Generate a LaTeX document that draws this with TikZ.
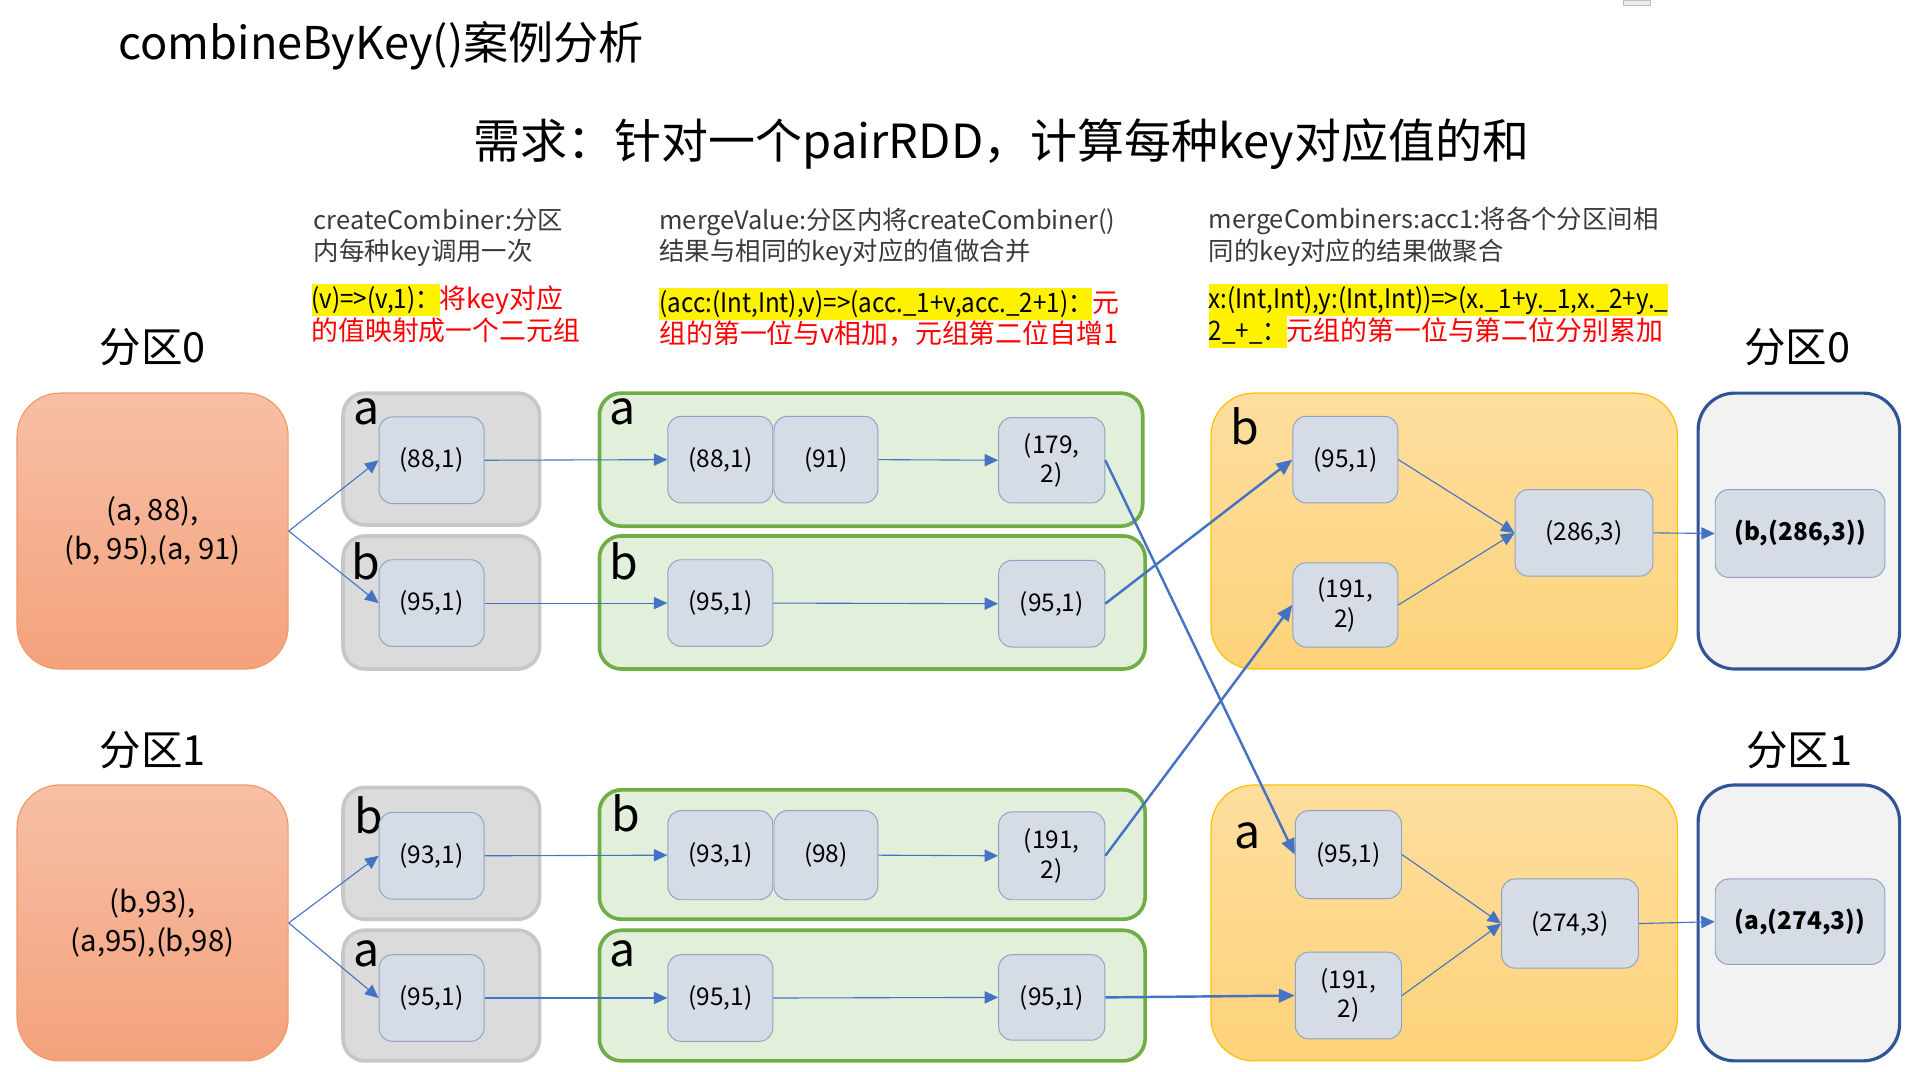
\documentclass[tikz,border=0pt]{standalone}
\usepackage{fontspec}
\setmainfont{Noto Sans CJK SC}
\newfontfamily\codefont[FakeStretch=0.9]{Noto Sans CJK SC}
\usetikzlibrary{arrows.meta}
\definecolor{kvfill}{HTML}{D6DCE5}
\definecolor{kvdraw}{HTML}{8FA3C3}
\definecolor{arr}{HTML}{4472C4}
\definecolor{grayfill}{HTML}{DBDBDB}
\definecolor{graydraw}{HTML}{C7C7C7}
\definecolor{greenfill}{HTML}{E2EFDA}
\definecolor{greendraw}{HTML}{70AD47}
\definecolor{orgtop}{HTML}{F7BFA6}
\definecolor{orgbot}{HTML}{F4A27C}
\definecolor{orgdraw}{HTML}{F19A66}
\definecolor{yeltop}{HTML}{FEDE9F}
\definecolor{yelbot}{HTML}{FDD37A}
\definecolor{yeldraw}{HTML}{FFC000}
\definecolor{resfill}{HTML}{F2F2F2}
\definecolor{resdraw}{HTML}{2F5597}
\definecolor{hdr}{HTML}{3A3A3A}
\definecolor{redtxt}{HTML}{FF0000}
\newcommand\hlt[1]{{\setlength{\fboxsep}{0pt}\colorbox{yellow}{\rule[-6pt]{0pt}{26pt}\textcolor{black}{\codefont #1}}}}
\tikzset{
  kv/.style={draw=kvdraw, fill=kvfill, rounded corners=11pt, line width=0.8pt,
    font=\fontsize{20}{24}\selectfont, align=center, inner sep=0pt,
    minimum width=86pt, minimum height=71pt},
  graybox/.style={draw=graydraw, fill=grayfill, rounded corners=18pt, line width=3pt,
    inner sep=0pt, minimum width=161pt},
  greenbox/.style={draw=greendraw, fill=greenfill, rounded corners=18pt, line width=3pt,
    inner sep=0pt, minimum width=447pt},
  orgbox/.style={draw=orgdraw, top color=orgtop, bottom color=orgbot, rounded corners=35pt,
    line width=1pt, inner sep=0pt, minimum width=222pt, minimum height=226pt,
    font=\fontsize{24}{32}\selectfont, align=center},
  yelbox/.style={draw=yeldraw, top color=yeltop, bottom color=yelbot, rounded corners=35pt,
    line width=1pt, inner sep=0pt, minimum width=382pt, minimum height=226pt},
  resbox/.style={draw=resdraw, fill=resfill, rounded corners=30pt, line width=2.6pt,
    inner sep=0pt, minimum width=165pt, minimum height=226pt},
  keylab/.style={anchor=base west, inner sep=0pt, font=\fontsize{38}{40}\selectfont},
  part/.style={anchor=base, inner sep=0pt, font=\fontsize{34}{38}\selectfont},
  hdrtxt/.style={anchor=base west, inner sep=0pt, text=hdr, font=\fontsize{20.8}{25}\selectfont},
  redline/.style={anchor=base west, inner sep=0pt, text=redtxt, font=\fontsize{22}{25}\selectfont},
  thin arrow/.style={draw=arr, line width=0.9pt, -{Triangle[length=11pt,width=10pt]}},
  thick arrow/.style={draw=arr, line width=2pt, -{Triangle[length=13pt,width=11pt]}},
}
\begin{document}
\begin{tikzpicture}[x=1pt,y=-1pt]
\useasboundingbox (0,0) rectangle (1567,878);
\node[fill=black!8, draw=black!25, line width=0.5pt, minimum width=22pt, minimum height=4pt, inner sep=0pt] (corner) at (1341,2) {};

% titles
\node[anchor=base west, inner sep=0pt, font=\fontsize{37}{40}\selectfont] (title) at (97,49) {combineByKey()案例分析};
\node[anchor=base west, inner sep=0pt, font=\fontsize{38.5}{44}\selectfont] (sub) at (388,130) {需求：针对一个pairRDD，计算每种key对应值的和};

% headers
\node[hdrtxt] (h1a) at (257,188) {createCombiner:分区};
\node[hdrtxt] (h1b) at (257,213) {内每种key调用一次};
\node[hdrtxt] (h2a) at (540,188) {mergeValue:分区内将createCombiner()};
\node[hdrtxt] (h2b) at (540,213) {结果与相同的key对应的值做合并};
\node[hdrtxt] (h3a) at (990,187) {mergeCombiners:acc1:将各个分区间相};
\node[hdrtxt] (h3b) at (990,213) {同的key对应的结果做聚合};

\node[redline] (r1a) at (255,253) {\hlt{(v)=>(v,1)：}将key对应};
\node[redline] (r1b) at (255,279) {的值映射成一个二元组};
\node[redline] (r2a) at (540,256) {\hlt{(acc:(Int,Int),v)=>(acc.\_1+v,acc.\_2+1)：}元};
\node[redline] (r2b) at (540,281) {组的第一位与v相加，元组第二位自增1};
\node[redline] (r3a) at (990,253) {\hlt{x:(Int,Int),y:(Int,Int))=>(x.\_1+y.\_1,x.\_2+y.\_}};
\node[redline] (r3b) at (990,279) {\hlt{2\_+\_：}元组的第一位与第二位分别累加};

% partition labels
\node[part] (p0l) at (125,297) {分区0};
\node[part] (p1l) at (125,627) {分区1};
\node[part] (p0r) at (1472,297) {分区0};
\node[part] (p1r) at (1474,627) {分区1};

% source boxes
\node[orgbox] (o0) at (125,435) {(a, 88),\\(b, 95),(a, 91)};
\node[orgbox] (o1) at (125,756) {(b,93),\\(a,95),(b,98)};

% gray boxes
\node[graybox, minimum height=108pt] (g0a) at (361.5,376) {};
\node[graybox, minimum height=109pt] (g0b) at (361.5,493.5) {};
\node[graybox, minimum height=108pt] (g1b) at (361.5,699) {};
\node[graybox, minimum height=107pt] (g1a) at (361.5,815.5) {};
\node[keylab] (lg0a) at (289,348) {a};
\node[keylab] (lg0b) at (288,475) {b};
\node[keylab] (lg1b) at (290,683) {b};
\node[keylab] (lg1a) at (289,792) {a};
\node[kv] (c0a) at (353.5,377) {(88,1)};
\node[kv] (c0b) at (353.5,494) {(95,1)};
\node[kv] (c1b) at (353.5,701) {(93,1)};
\node[kv] (c1a) at (353.5,817.5) {(95,1)};

% green boxes
\node[greenbox, minimum width=445pt, minimum height=109pt] (G0a) at (713.5,376.5) {};
\node[greenbox, minimum height=109pt] (G0b) at (714.5,493.5) {};
\node[greenbox, minimum height=106pt] (G1b) at (714.5,700) {};
\node[greenbox, minimum height=107pt] (G1a) at (714.5,815.5) {};
\node[keylab] (lG0a) at (499,348) {a};
\node[keylab] (lG0b) at (499,475) {b};
\node[keylab] (lG1b) at (501,681) {b};
\node[keylab] (lG1a) at (499,792) {a};
\node[kv] (m0a1) at (590,376.5) {(88,1)};
\node[kv, minimum width=85pt] (m0a2) at (676.5,376.5) {(91)};
\node[kv, minimum width=87pt, minimum height=70pt] (m0a3) at (861.5,377) {(179,\\2)};
\node[kv] (m0b1) at (590,494) {(95,1)};
\node[kv, minimum width=87pt] (m0b3) at (861.5,494.5) {(95,1)};
\node[kv, minimum height=73pt] (m1b1) at (590,700.5) {(93,1)};
\node[kv, minimum width=85pt, minimum height=73pt] (m1b2) at (676.5,700.5) {(98)};
\node[kv, minimum width=87pt, minimum height=72pt] (m1b3) at (861.5,701) {(191,\\2)};
\node[kv] (m1a1) at (590,817.5) {(95,1)};
\node[kv, minimum width=87pt, minimum height=70pt] (m1a3) at (861.5,817) {(95,1)};

% yellow boxes
\node[yelbox] (Y0) at (1183,435) {};
\node[yelbox] (Y1) at (1183,756) {};
\node[keylab] (lY0) at (1008,364) {b};
\node[keylab] (lY1) at (1011,695) {a};
\node[kv] (y0a) at (1102,376.5) {(95,1)};
\node[kv, minimum height=69pt] (y0b) at (1102,495.5) {(191,\\2)};
\node[kv, minimum width=113pt] (y0s) at (1297.5,436.5) {(286,3)};
\node[kv, minimum width=87pt, minimum height=72pt] (y1a) at (1104.5,700) {(95,1)};
\node[kv, minimum width=87pt] (y1b) at (1104.5,815.5) {(191,\\2)};
\node[kv, minimum width=112pt, minimum height=73pt] (y1s) at (1286,756.5) {(274,3)};

% result boxes
\node[resbox] (R0) at (1473.5,435) {};
\node[resbox] (R1) at (1473.5,756) {};
\node[kv, minimum width=139pt, minimum height=72pt, font=\fontsize{20}{24}\selectfont\bfseries] (res0) at (1474.5,437) {(b,(286,3))};
\node[kv, minimum width=139pt, minimum height=70pt, font=\fontsize{20}{24}\selectfont\bfseries] (res1) at (1474.5,755) {(a,(274,3))};

% arrows
\draw[thin arrow] (o0.east) -- (c0a.west);
\draw[thin arrow] (o0.east) -- (c0b.west);
\draw[thin arrow] (o1.east) -- (c1b.west);
\draw[thin arrow] (o1.east) -- (c1a.west);
\draw[thin arrow] (c0a.east) -- (m0a1.west);
\draw[thin arrow] (c0b.east) -- (m0b1.west);
\draw[thin arrow] (c1b.east) -- (m1b1.west);
\draw[thin arrow] (c1a.east) -- (m1a1.west);
\draw[thin arrow] (m0a2.east) -- (m0a3.west);
\draw[thin arrow] (m0b1.east) -- (m0b3.west);
\draw[thin arrow] (m1b2.east) -- (m1b3.west);
\draw[thin arrow] (m1a1.east) -- (m1a3.west);
\draw[thick arrow] (m0a3.east) -- (y1a.west);
\draw[thick arrow] (m0b3.east) -- (y0a.west);
\draw[thick arrow] (m1b3.east) -- (y0b.west);
\draw[thick arrow] (m1a3.east) -- (y1b.west);
\draw[thin arrow] (y0a.east) -- (y0s.west);
\draw[thin arrow] (y0b.east) -- (y0s.west);
\draw[thin arrow] (y1a.east) -- (y1s.west);
\draw[thin arrow] (y1b.east) -- (y1s.west);
\draw[thin arrow] (y0s.east) -- (res0.west);
\draw[thin arrow] (y1s.east) -- (res1.west);
\end{tikzpicture}
\end{document}
